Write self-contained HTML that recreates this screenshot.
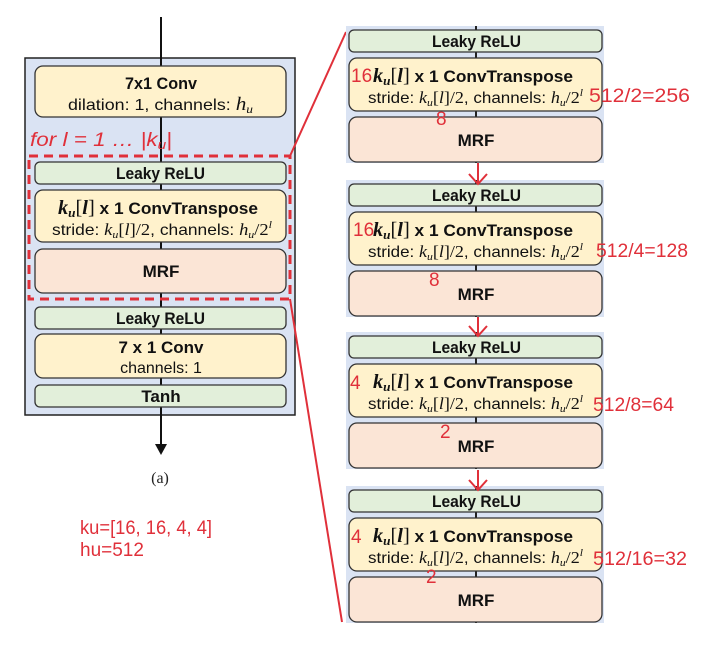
<!DOCTYPE html>
<html><head><meta charset="utf-8"><style>
html,body{margin:0;padding:0;background:#fff;width:720px;height:660px;overflow:hidden}
svg{display:block}
.b{font-family:"Liberation Sans","DejaVu Sans",sans-serif;font-weight:bold;font-size:17px;fill:#111}
.n{font-family:"Liberation Sans","DejaVu Sans",sans-serif;font-size:16px;fill:#111}
.m{font-family:"Liberation Serif",serif;font-style:italic}
.r{font-family:"Liberation Sans","DejaVu Sans",sans-serif;font-size:19px;fill:#e0303a}
</style></head><body>
<svg width="720" height="660" viewBox="0 0 720 660" xmlns="http://www.w3.org/2000/svg">
<defs>
<g id="blk">
  <rect x="-3" y="-4" width="258" height="137" fill="#dae3f3"/>
  <line x1="127" y1="-4" x2="127" y2="133" stroke="#222" stroke-width="2"/>
  <rect x="0" y="0" width="253" height="22" rx="5" fill="#e2efda" stroke="#333" stroke-width="1.3"/>
  <text x="83" y="17" class="b" textLength="89" lengthAdjust="spacingAndGlyphs">Leaky ReLU</text>
  <rect x="0" y="28" width="253" height="53" rx="8" fill="#fff2cc" stroke="#333" stroke-width="1.3"/>
  <text x="24" y="52" class="b" font-size="18" textLength="200" lengthAdjust="spacingAndGlyphs"><tspan class="m" font-size="20">k<tspan font-size="13" dy="3">u</tspan><tspan dy="-3" font-style="normal" font-weight="normal">[</tspan>l<tspan font-style="normal" font-weight="normal">]</tspan></tspan> x 1  ConvTranspose</text>
  <text x="19" y="73" class="n" textLength="215" lengthAdjust="spacingAndGlyphs">stride: <tspan class="m" font-size="17">k<tspan font-size="11" dy="3">u</tspan><tspan dy="-3" font-style="normal">[</tspan>l<tspan font-style="normal">]/2</tspan></tspan>, channels: <tspan class="m" font-size="17">h<tspan font-size="11" dy="3">u</tspan><tspan dy="-3" font-style="normal">/2</tspan><tspan font-size="11" dy="-7">l</tspan></tspan></text>
  <rect x="0" y="87" width="253" height="45" rx="8" fill="#fbe5d6" stroke="#333" stroke-width="1.3"/>
  <text x="127" y="116" text-anchor="middle" class="b" font-size="17">MRF</text>
</g>
</defs>

<!-- left panel -->
<rect x="25" y="58" width="270" height="357" fill="#dae3f3" stroke="#222" stroke-width="1.5"/>
<line x1="161" y1="17" x2="161" y2="448" stroke="#111" stroke-width="2"/>
<path d="M155 444 L161 455 L167 444 Z" fill="#111"/>
<rect x="35" y="66" width="251" height="51" rx="8" fill="#fff2cc" stroke="#333" stroke-width="1.3"/>
<text x="125" y="89" class="b" font-size="17" textLength="72" lengthAdjust="spacingAndGlyphs">7x1 Conv</text>
<text x="68" y="110" class="n" font-size="17" textLength="185" lengthAdjust="spacingAndGlyphs">dilation: 1, channels: <tspan class="m" font-size="19">h<tspan font-size="12" dy="3">u</tspan></tspan></text>
<text x="30" y="146" class="r m" font-size="19" textLength="142" lengthAdjust="spacingAndGlyphs">for  l = 1  … |k<tspan font-size="13" dy="3">u</tspan><tspan dy="-3">|</tspan></text>
<rect x="29" y="156" width="261" height="143" fill="none" stroke="#e0303a" stroke-width="3" stroke-dasharray="9,6"/>
<rect x="35" y="162" width="251" height="22" rx="5" fill="#e2efda" stroke="#333" stroke-width="1.3"/>
<text x="116" y="179" class="b" textLength="89" lengthAdjust="spacingAndGlyphs">Leaky ReLU</text>
<rect x="35" y="190" width="251" height="52" rx="8" fill="#fff2cc" stroke="#333" stroke-width="1.3"/>
<text x="58" y="214" class="b" font-size="18" textLength="200" lengthAdjust="spacingAndGlyphs"><tspan class="m" font-size="20">k<tspan font-size="13" dy="3">u</tspan><tspan dy="-3" font-style="normal" font-weight="normal">[</tspan>l<tspan font-style="normal" font-weight="normal">]</tspan></tspan> x 1  ConvTranspose</text>
<text x="52" y="235" class="n" textLength="220" lengthAdjust="spacingAndGlyphs">stride: <tspan class="m" font-size="17">k<tspan font-size="11" dy="3">u</tspan><tspan dy="-3" font-style="normal">[</tspan>l<tspan font-style="normal">]/2</tspan></tspan>, channels: <tspan class="m" font-size="17">h<tspan font-size="11" dy="3">u</tspan><tspan dy="-3" font-style="normal">/2</tspan><tspan font-size="11" dy="-7">l</tspan></tspan></text>
<rect x="35" y="249" width="251" height="44" rx="8" fill="#fbe5d6" stroke="#333" stroke-width="1.3"/>
<text x="161" y="277" text-anchor="middle" class="b">MRF</text>
<rect x="35" y="307" width="251" height="22" rx="5" fill="#e2efda" stroke="#333" stroke-width="1.3"/>
<text x="116" y="324" class="b" textLength="89" lengthAdjust="spacingAndGlyphs">Leaky ReLU</text>
<rect x="35" y="334" width="251" height="44" rx="8" fill="#fff2cc" stroke="#333" stroke-width="1.3"/>
<text x="161" y="353" text-anchor="middle" class="b" font-size="17">7 x 1  Conv</text>
<text x="161" y="373" text-anchor="middle" class="n" font-size="17">channels: 1</text>
<rect x="35" y="385" width="251" height="22" rx="5" fill="#e2efda" stroke="#333" stroke-width="1.3"/>
<text x="161" y="402" text-anchor="middle" class="b">Tanh</text>
<text x="160" y="483" text-anchor="middle" font-family="Liberation Serif,serif" font-size="16" fill="#222">(a)</text>
<text x="80" y="534" class="r" textLength="132" lengthAdjust="spacingAndGlyphs">ku=[16, 16, 4, 4]</text>
<text x="80" y="556" class="r">hu=512</text>

<!-- zoom lines -->
<line x1="290" y1="156" x2="346" y2="32" stroke="#e0303a" stroke-width="2"/>
<line x1="290" y1="299" x2="342" y2="622" stroke="#e0303a" stroke-width="2"/>

<!-- right blocks -->
<use href="#blk" x="349" y="30"/>
<use href="#blk" x="349" y="184"/>
<use href="#blk" x="349" y="336"/>
<use href="#blk" x="349" y="490"/>

<!-- red arrows -->
<g stroke="#e0303a" stroke-width="2" fill="none">
<path d="M478 163 V184 M469 174 L478 184 L487 174"/>
<path d="M478 317 V336 M469 326 L478 336 L487 326"/>
<path d="M478 470 V490 M469 480 L478 490 L487 480"/>
</g>

<!-- annotations -->
<text x="351" y="82" class="r" font-size="19">16</text>
<text x="436" y="125" class="r" font-size="19">8</text>
<text x="589" y="102" class="r" font-size="20" textLength="101" lengthAdjust="spacingAndGlyphs">512/2=256</text>
<text x="353" y="236" class="r" font-size="19">16</text>
<text x="429" y="286" class="r" font-size="19">8</text>
<text x="596" y="257" class="r" font-size="20" textLength="92" lengthAdjust="spacingAndGlyphs">512/4=128</text>
<text x="350" y="389" class="r" font-size="19">4</text>
<text x="440" y="438" class="r" font-size="19">2</text>
<text x="593" y="411" class="r" font-size="20" textLength="81" lengthAdjust="spacingAndGlyphs">512/8=64</text>
<text x="351" y="543" class="r" font-size="19">4</text>
<text x="426" y="583" class="r" font-size="19">2</text>
<text x="593" y="565" class="r" font-size="20" textLength="94" lengthAdjust="spacingAndGlyphs">512/16=32</text>
</svg>
</body></html>
